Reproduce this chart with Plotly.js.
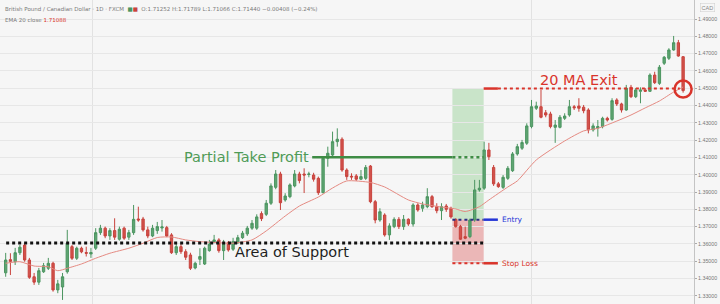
<!DOCTYPE html>
<html>
<head>
<meta charset="utf-8">
<script src="https://cdn.plot.ly/plotly-3.0.1.min.js"></script>
<style>
html,body{margin:0;padding:0;background:#f6f6f6;}
#chart{width:720px;height:304px;}
</style>
</head>
<body>
<div id="chart"></div>
<script>
// ---- Data ----
const openP = [1.3433,1.3509,1.3497,1.3549,1.3593,1.3507,1.3410,1.3379,1.3439,1.3459,
1.3488,1.3334,1.3351,1.3439,1.3584,1.3517,1.3575,1.3550,1.3542,1.3575,
1.3665,1.3691,1.3646,1.3677,1.3627,1.3691,1.3639,1.3665,1.3744,1.3744,
1.3681,1.3646,1.3677,1.3692,1.3694,1.3652,1.3549,1.3584,1.3555,1.3536,
1.3461,1.3511,1.3484,1.3561,1.3613,1.3623,1.3561,1.3607,1.3569,1.3607,
1.3636,1.3658,1.3691,1.3691,1.3775,1.3771,1.3835,1.3927,1.4004,1.3854,
1.3873,1.3935,1.4004,1.4004,1.4001,1.3998,1.3979,1.3896,1.4095,1.4114,
1.4191,1.4205,1.4027,1.3991,1.3993,1.3974,1.3979,1.4050,1.3844,1.3738,
1.3767,1.3652,1.3700,1.3742,1.3700,1.3742,1.3715,1.3825,1.3806,1.3815,
1.3873,1.3815,1.3792,1.3819,1.3806,1.3742,1.3700,1.3642,1.3642,1.3738,
1.3912,1.3922,1.4143,1.4042,1.3947,1.3927,1.3979,1.4023,1.4120,1.4153,
1.4182,1.4278,1.4384,1.4393,1.4358,1.4351,1.4274,1.4274,1.4326,1.4345,
1.4393,1.4397,1.4390,1.4374,1.4259,1.4270,1.4278,1.4326,1.4320,1.4432,
1.4409,1.4374,1.4505,1.4451,1.4482,1.4490,1.4482,1.4576,1.4528,1.4644,
1.4673,1.4721,1.4763,1.4682];
const highP = [1.3548,1.3546,1.3577,1.3594,1.3606,1.3519,1.3432,1.3461,1.3490,1.3519,
1.3497,1.3392,1.3432,1.3681,1.3594,1.3584,1.3584,1.3584,1.3577,1.3691,
1.3710,1.3700,1.3691,1.3748,1.3700,1.3700,1.3681,1.3825,1.3815,1.3756,
1.3700,1.3710,1.3727,1.3738,1.3704,1.3662,1.3604,1.3600,1.3569,1.3549,
1.3497,1.3575,1.3584,1.3623,1.3652,1.3633,1.3623,1.3617,1.3635,1.3652,
1.3675,1.3704,1.3738,1.3771,1.3788,1.3854,1.3950,1.4027,1.4017,1.3893,
1.3950,1.4027,1.4017,1.4037,1.4017,1.4011,1.3989,1.4104,1.4162,1.4249,
1.4268,1.4216,1.4037,1.4008,1.4004,1.4027,1.4056,1.4056,1.3854,1.3806,
1.3777,1.3719,1.3754,1.3755,1.3767,1.3748,1.3835,1.3835,1.3844,1.3922,
1.3883,1.3835,1.3835,1.3831,1.3815,1.3748,1.3710,1.3700,1.3746,1.3970,
1.3970,1.4191,1.4184,1.4056,1.3958,1.3998,1.4050,1.4131,1.4178,1.4201,
1.4297,1.4432,1.4422,1.4490,1.4374,1.4364,1.4316,1.4345,1.4355,1.4432,
1.4403,1.4442,1.4403,1.4384,1.4297,1.4316,1.4335,1.4335,1.4442,1.4442,
1.4416,1.4519,1.4519,1.4501,1.4505,1.4501,1.4586,1.4595,1.4634,1.4686,
1.4731,1.4802,1.4779,1.4686];
const lowP = [1.3410,1.3420,1.3478,1.3536,1.3497,1.3398,1.3363,1.3363,1.3432,1.3449,
1.3324,1.3315,1.3276,1.3428,1.3507,1.3507,1.3546,1.3527,1.3519,1.3565,
1.3652,1.3633,1.3623,1.3623,1.3619,1.3623,1.3623,1.3652,1.3728,1.3671,
1.3633,1.3639,1.3658,1.3671,1.3639,1.3542,1.3536,1.3542,1.3507,1.3449,
1.3453,1.3478,1.3478,1.3555,1.3604,1.3549,1.3507,1.3555,1.3559,1.3600,
1.3629,1.3646,1.3681,1.3681,1.3732,1.3761,1.3825,1.3916,1.3796,1.3844,
1.3864,1.3927,1.3950,1.3894,1.3985,1.3960,1.3883,1.3893,1.4046,1.4104,
1.4162,1.4017,1.3970,1.3970,1.3964,1.3970,1.3970,1.3835,1.3719,1.3728,
1.3642,1.3623,1.3691,1.3686,1.3681,1.3704,1.3700,1.3786,1.3786,1.3806,
1.3808,1.3777,1.3738,1.3785,1.3746,1.3694,1.3623,1.3627,1.3633,1.3728,
1.3902,1.3912,1.4085,1.3935,1.3924,1.3918,1.3970,1.4016,1.4110,1.4143,
1.4172,1.4268,1.4374,1.4326,1.4332,1.4268,1.4184,1.4268,1.4316,1.4335,
1.4374,1.4364,1.4355,1.4239,1.4249,1.4220,1.4268,1.4307,1.4312,1.4397,
1.4359,1.4370,1.4443,1.4443,1.4413,1.4478,1.4480,1.4524,1.4519,1.4634,
1.4663,1.4717,1.4682,1.4474];
const closeP = [1.3507,1.3499,1.3549,1.3581,1.3507,1.3407,1.3379,1.3445,1.3474,1.3488,
1.3334,1.3369,1.3410,1.3604,1.3517,1.3575,1.3554,1.3546,1.3550,1.3665,
1.3691,1.3646,1.3677,1.3639,1.3685,1.3633,1.3665,1.3742,1.3738,1.3681,
1.3646,1.3691,1.3700,1.3698,1.3646,1.3549,1.3584,1.3555,1.3523,1.3459,
1.3488,1.3527,1.3575,1.3598,1.3623,1.3561,1.3607,1.3565,1.3613,1.3636,
1.3662,1.3691,1.3719,1.3756,1.3746,1.3835,1.3935,1.4004,1.3838,1.3877,
1.3941,1.4004,1.3966,1.3998,1.4004,1.3974,1.3896,1.4095,1.4124,1.4191,
1.4205,1.4027,1.3989,1.3987,1.3974,1.3989,1.4042,1.3844,1.3738,1.3786,
1.3652,1.3704,1.3742,1.3700,1.3742,1.3715,1.3825,1.3796,1.3825,1.3873,
1.3815,1.3792,1.3815,1.3800,1.3756,1.3700,1.3627,1.3633,1.3738,1.3912,
1.3922,1.4143,1.4104,1.3947,1.3931,1.3985,1.4037,1.4120,1.4162,1.4186,
1.4282,1.4393,1.4397,1.4332,1.4345,1.4278,1.4287,1.4332,1.4339,1.4393,
1.4387,1.4384,1.4370,1.4259,1.4282,1.4278,1.4326,1.4316,1.4428,1.4409,
1.4374,1.4500,1.4451,1.4490,1.4490,1.4482,1.4576,1.4532,1.4621,1.4679,
1.4721,1.4763,1.4686,1.4486];

// EMA 20 line, read at sample candles
const emaIdx = [0,3,6,9,11,13,16,19,22,26,29,32,35,38,41,45,48,52,55,59,62,66,69,72,
77,80,85,88,92,95,97,100,102,106,108,112,118,122,125,129,132,135,138,141,143];
const emaVal = [1.3488,1.3497,1.3472,1.3468,1.3445,1.3459,1.3484,1.3517,1.3546,1.3575,
1.3604,1.3637,1.3640,1.3623,1.3613,1.3607,1.3604,1.3623,1.3675,1.3761,1.3819,1.3871,
1.3923,1.3964,1.3955,1.3929,1.3854,1.3831,1.3813,1.3802,1.3787,1.3815,1.3854,1.3929,
1.3964,1.4085,1.4195,1.4253,1.4268,1.4310,1.4345,1.4386,1.4426,1.4478,1.4507];

// Trade levels
const supportLevel = 1.3605;
const takeProfitLevel = 1.4101;
const exitLevel = 1.4498;
const entryLevel = 1.3740;
const stopLevel = 1.3488;

// Axis ticks
const tickVals = [1.33,1.34,1.35,1.36,1.37,1.38,1.39,1.40,1.41,1.42,1.43,1.44,1.45,1.46,1.47,1.48,1.49];
const tickText = tickVals.map(v => v.toFixed(5));

const xIdx = openP.map((_, i) => i);

const candles = {
  type: 'candlestick',
  x: xIdx, open: openP, high: highP, low: lowP, close: closeP,
  increasing: {line: {color: '#4b9560', width: 1}, fillcolor: '#5fa572'},
  decreasing: {line: {color: '#c8433d', width: 1}, fillcolor: '#d2524b'},
  whiskerwidth: 0,
  hoverinfo: 'skip'
};
const ema = {
  type: 'scatter', mode: 'lines', x: emaIdx, y: emaVal,
  line: {color: '#e58a82', width: 1, shape: 'spline', smoothing: 0.6},
  hoverinfo: 'skip'
};

const zx0 = 94.3, zx1 = 100.9, sx1 = 103.9;
const red = '#d9342b', green = '#3f8c45', blue = '#2536d6';
const shapes = [
  {type:'rect', xref:'x', yref:'y', x0:zx0, x1:zx1, y0:entryLevel, y1:exitLevel,
   fillcolor:'rgba(130,200,130,0.38)', line:{width:0}, layer:'below'},
  {type:'rect', xref:'x', yref:'y', x0:zx0, x1:zx1, y0:stopLevel, y1:entryLevel,
   fillcolor:'rgba(220,95,95,0.42)', line:{width:0}, layer:'below'},
  {type:'line', xref:'x', yref:'y', x0:0.1, x1:101.2, y0:supportLevel, y1:supportLevel,
   line:{color:'#111', width:3, dash:'dot'}},
  {type:'line', xref:'x', yref:'y', x0:64.7, x1:zx0, y0:takeProfitLevel, y1:takeProfitLevel,
   line:{color:green, width:2.5}},
  {type:'line', xref:'x', yref:'y', x0:zx0, x1:zx1, y0:takeProfitLevel, y1:takeProfitLevel,
   line:{color:green, width:2.5, dash:'dot'}},
  {type:'line', xref:'x', yref:'y', x0:zx1, x1:sx1, y0:exitLevel, y1:exitLevel,
   line:{color:red, width:2.5}},
  {type:'line', xref:'x', yref:'y', x0:sx1, x1:142.3, y0:exitLevel, y1:exitLevel,
   line:{color:red, width:2, dash:'dot'}},
  {type:'line', xref:'x', yref:'y', x0:zx0, x1:zx1, y0:entryLevel, y1:entryLevel,
   line:{color:'#2a2f80', width:2, dash:'dot'}},
  {type:'line', xref:'x', yref:'y', x0:zx1, x1:sx1, y0:entryLevel, y1:entryLevel,
   line:{color:blue, width:2.5}},
  {type:'line', xref:'x', yref:'y', x0:zx0, x1:zx1, y0:stopLevel, y1:stopLevel,
   line:{color:red, width:2, dash:'dot'}},
  {type:'line', xref:'x', yref:'y', x0:zx1, x1:sx1, y0:stopLevel, y1:stopLevel,
   line:{color:red, width:2.5}},
  {type:'circle', xref:'x', yref:'y', x0:141.2, x1:144.8, y0:1.4446, y1:1.4544,
   line:{color:red, width:2.5}}
];

const font = 'DejaVu Sans, Verdana, sans-serif';
const smallFont = 'Liberation Sans, Arial, sans-serif';
const annotations = [
  {xref:'x', yref:'y', x:64.5, y:takeProfitLevel, text:'Partial Take Profit', showarrow:false,
   xanchor:'right', yanchor:'middle', font:{family:font, size:14.5, color:'#4f9b57'}},
  {xref:'x', yref:'y', x:48.0, y:1.3553, text:'Area of Support', showarrow:false,
   xanchor:'left', yanchor:'middle', font:{family:font, size:14.5, color:'#1e1e1e'}},
  {xref:'x', yref:'y', x:112.4, y:1.4548, text:'20 MA Exit', showarrow:false,
   xanchor:'left', yanchor:'middle', font:{family:font, size:14.5, color:red}},
  {xref:'x', yref:'y', x:104.3, y:entryLevel, text:'Entry', showarrow:false,
   xanchor:'left', yanchor:'middle', font:{family:font, size:7.5, color:blue}},
  {xref:'x', yref:'y', x:104.3, y:stopLevel, text:'Stop Loss', showarrow:false,
   xanchor:'left', yanchor:'middle', font:{family:font, size:7.5, color:red}},
  {xref:'paper', yref:'paper', x:0.005, y:1 - 4/304, xanchor:'left', yanchor:'top', showarrow:false,
   text:'British Pound / Canadian Dollar · 1D · FXCM  <span style="color:#4b9560">■</span><span style="color:#c8433d">■</span>  O:1.71252 H:1.71789 L:1.71066 C:1.71440 −0.00408 (−0.24%)',
   font:{family:font, size:5.5, color:'#7a7a7a'}},
  {xref:'paper', yref:'paper', x:0.005, y:1 - 15/304, xanchor:'left', yanchor:'top', showarrow:false,
   text:'EMA 20 close <span style="color:#d9342b">1.71088</span>',
   font:{family:font, size:5.5, color:'#7a7a7a'}},
  {xref:'paper', yref:'paper', x:707/694, y:1 - 8/304, xanchor:'center', yanchor:'middle', showarrow:false,
   text:'CAD', font:{family:smallFont, size:5.5, color:'#888'}, bordercolor:'#ccc', borderwidth:0.5, borderpad:1}
];

const layout = {
  width: 720, height: 304,
  margin: {l: 0, r: 26, t: 0, b: 0},
  paper_bgcolor: '#f6f6f6', plot_bgcolor: '#f6f6f6',
  showlegend: false,
  xaxis: {range: [-1.2, 145.3], showticklabels: false, tickvals: [18.4, 111.1],
          showgrid: true, gridcolor: '#e2e2e2', zeroline: false, rangeslider: {visible: false},
          fixedrange: true},
  yaxis: {side: 'right', range: [1.32526, 1.50098], tickvals: tickVals, ticktext: tickText,
          ticks: 'outside', ticklen: 2, tickcolor: '#aaa', ticklabelstandoff: 0,
          tickfont: {family: smallFont, size: 5.3, color: '#777'},
          showline: true, linecolor: '#c4c4c4', gridcolor: '#e7e7e7', zeroline: false,
          fixedrange: true},
  shapes: shapes,
  annotations: annotations
};

Plotly.newPlot('chart', [candles, ema], layout, {displayModeBar: false, staticPlot: true});
</script>
</body>
</html>
